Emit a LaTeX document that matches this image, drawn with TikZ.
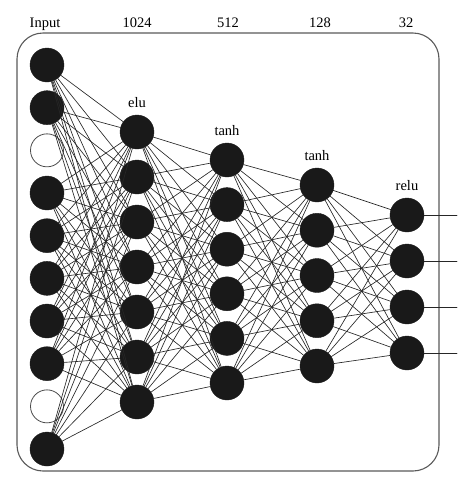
\documentclass[tikz,border=0pt]{standalone}
\usepackage{fontspec}
\setmainfont{Liberation Serif}
\usetikzlibrary{positioning}
\begin{document}
\begin{tikzpicture}[x=1pt, y=-1pt, line join=round, line cap=round, font=\fontsize{14.5}{17}\selectfont]
		\tikzset{neuron/.style={circle, fill=black!90, draw=black!90, minimum size=34pt, inner sep=0pt},
			dropped/.style={circle, fill=white, draw=black!70, line width=0.8pt, minimum size=33pt, inner sep=0pt},
			synapse/.style={black!85, line width=0.65pt},
			actname/.style={inner sep=0pt, above=7pt},
			header/.style={anchor=base, inner sep=0pt}}
		\useasboundingbox (0,0) rectangle (474,488);
		\draw [black!65, line width=1.1pt, rounded corners=26pt] (17,33) rectangle (439,471);
		% layers
		\foreach \i/\s in {1/neuron, 2/neuron, 3/dropped, 4/neuron, 5/neuron, 6/neuron, 7/neuron, 8/neuron, 9/dropped, 10/neuron}{
			\node [\s] (a\i) at (47, {65+(\i-1)*42.67}) {};
		}
		\foreach \i in {1,...,7}{
			\node [neuron] (b\i) at (137, {132+(\i-1)*45}) {};
		}
		\foreach \i in {1,...,6}{
			\node [neuron] (c\i) at (227, {160+(\i-1)*44.6}) {};
		}
		\foreach \i in {1,...,5}{
			\node [neuron] (d\i) at (317, {185+(\i-1)*45.25}) {};
		}
		\foreach \i in {1,...,4}{
			\node [neuron] (e\i) at (407, {215+(\i-1)*46}) {};
			\coordinate (out\i) at (457, {215+(\i-1)*46});
		}
		% connections
		\foreach \i in {1,2,4,5,6,7,8,10}{
			\foreach \j in {1,...,7}{
				\draw [synapse] (a\i) -- (b\j);
			}
		}
		\foreach \i in {1,...,7}{
			\foreach \j in {1,...,6}{
				\draw [synapse] (b\i) -- (c\j);
			}
		}
		\foreach \i in {1,...,6}{
			\foreach \j in {1,...,5}{
				\draw [synapse] (c\i) -- (d\j);
			}
		}
		\foreach \i in {1,...,5}{
			\foreach \j in {1,...,4}{
				\draw [synapse] (d\i) -- (e\j);
			}
		}
		\foreach \i in {1,...,4}{
			\draw [synapse] (e\i) -- (out\i);
		}
		% labels
		\node [actname, above=7pt of b1] (elu) {elu};
		\node [actname, above=7pt of c1] (tanhA) {tanh};
		\node [actname, above=7pt of d1] (tanhB) {tanh};
		\node [actname, above=7pt of e1] (relu) {relu};
		\foreach \x/\t/\n in {45/Input/hin, 137/1024/hb, 228/512/hc, 320/128/hd, 406/32/he}{
			\node [header] (\n) at (\x, 27.5) {\t};
		}
	\end{tikzpicture}
\end{document}
